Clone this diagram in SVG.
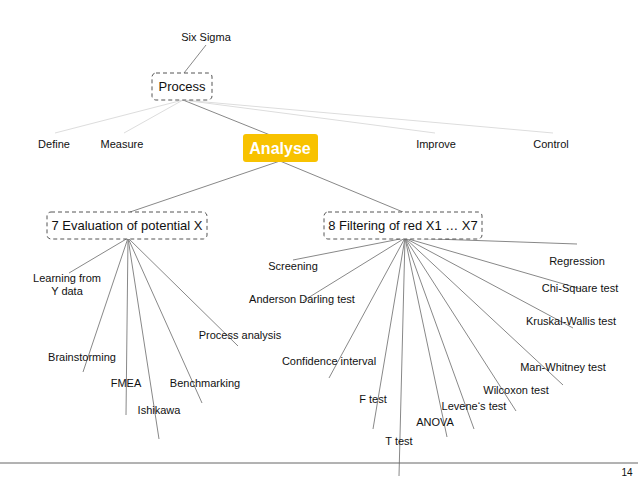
<svg xmlns="http://www.w3.org/2000/svg" width="638" height="479" viewBox="0 0 638 479">
<style>
text{font-family:"Liberation Sans",Arial,sans-serif;font-size:11px;fill:#111;text-anchor:middle}
.b{font-size:13px}
.l{stroke:#888;stroke-width:1;fill:none}
.f{stroke:#ddd;stroke-width:1;fill:none}
.box{fill:#fff;stroke:#555;stroke-dasharray:4,3;stroke-width:1}
</style>
<rect width="638" height="479" fill="#fff"/>
<g id="connectors">
<line class="l" x1="206" y1="45" x2="184" y2="73"/>
<line class="f" x1="183" y1="100" x2="55" y2="133"/>
<line class="f" x1="183" y1="100" x2="124" y2="133"/>
<line class="l" x1="183" y1="100" x2="280" y2="139"/>
<line class="f" x1="183" y1="100" x2="435" y2="133"/>
<line class="f" x1="183" y1="100" x2="553" y2="133"/>
<line class="l" x1="280" y1="161" x2="130" y2="212"/>
<line class="l" x1="280" y1="161" x2="403" y2="212"/>
<g>
<line class="l" x1="128" y1="238" x2="69" y2="273"/>
<line class="l" x1="128" y1="238" x2="83" y2="372"/>
<line class="l" x1="128" y1="238" x2="126" y2="415"/>
<line class="l" x1="128" y1="238" x2="159" y2="439"/>
<line class="l" x1="128" y1="238" x2="202" y2="403"/>
<line class="l" x1="128" y1="238" x2="238" y2="346"/>
</g>
<g>
<line class="l" x1="405" y1="238" x2="293" y2="260"/>
<line class="l" x1="405" y1="238" x2="303" y2="301"/>
<line class="l" x1="405" y1="238" x2="329" y2="378"/>
<line class="l" x1="405" y1="238" x2="373" y2="429"/>
<line class="l" x1="405" y1="238" x2="399" y2="476"/>
<line class="l" x1="405" y1="238" x2="447" y2="437"/>
<line class="l" x1="405" y1="238" x2="474" y2="429"/>
<line class="l" x1="405" y1="238" x2="516" y2="411"/>
<line class="l" x1="405" y1="238" x2="563" y2="385"/>
<line class="l" x1="405" y1="238" x2="573" y2="328"/>
<line class="l" x1="405" y1="238" x2="581" y2="289"/>
<line class="l" x1="405" y1="238" x2="577" y2="244"/>
</g>
</g>
<g id="sixsigma"><text x="206" y="41">Six Sigma</text></g>
<g id="process"><rect class="box" x="152" y="73" width="60" height="27" rx="4"/><text class="b" x="182" y="91">Process</text></g>
<g id="define"><text x="54" y="148">Define</text></g>
<g id="measure"><text x="122" y="148">Measure</text></g>
<g id="analyse"><rect x="243" y="134" width="75" height="28" rx="3" fill="#F8C200"/><text x="280" y="154" style="font-size:16px;font-weight:bold;fill:#fff">Analyse</text></g>
<g id="improve"><text x="436" y="148">Improve</text></g>
<g id="control"><text x="551" y="148">Control</text></g>
<g id="eval"><rect class="box" x="47" y="212" width="160" height="27" rx="4"/><text class="b" x="127" y="230">7 Evaluation of potential X</text></g>
<g id="filter"><rect class="box" x="324" y="212" width="158" height="27" rx="4"/><text class="b" x="403" y="230">8 Filtering of red X1 … X7</text></g>
<g id="learning"><text x="67" y="282">Learning from</text><text x="67" y="295">Y data</text></g>
<g id="brainstorming"><text x="82" y="361">Brainstorming</text></g>
<g id="fmea"><text x="126" y="387">FMEA</text></g>
<g id="ishikawa"><text x="159" y="414">Ishikawa</text></g>
<g id="benchmarking"><text x="205" y="387">Benchmarking</text></g>
<g id="processanalysis"><text x="240" y="339">Process analysis</text></g>
<g id="screening"><text x="293" y="270">Screening</text></g>
<g id="anderson"><text x="302" y="303">Anderson Darling test</text></g>
<g id="confidence"><text x="329" y="365">Confidence interval</text></g>
<g id="ftest"><text x="373" y="403">F test</text></g>
<g id="ttest"><text x="399" y="445">T test</text></g>
<g id="anova"><text x="435" y="426">ANOVA</text></g>
<g id="levene"><text x="474" y="410">Levene‘s test</text></g>
<g id="wilcoxon"><text x="516" y="394">Wilcoxon test</text></g>
<g id="manwhitney"><text x="563" y="371">Man-Whitney test</text></g>
<g id="kruskal"><text x="571" y="325">Kruskal-Wallis test</text></g>
<g id="chisquare"><text x="580" y="292">Chi-Square test</text></g>
<g id="regression"><text x="577" y="265">Regression</text></g>
<line x1="0" y1="463" x2="638" y2="463" stroke="#666" stroke-width="1"/>
<text x="627" y="476" style="font-size:10px">14</text>
</svg>
